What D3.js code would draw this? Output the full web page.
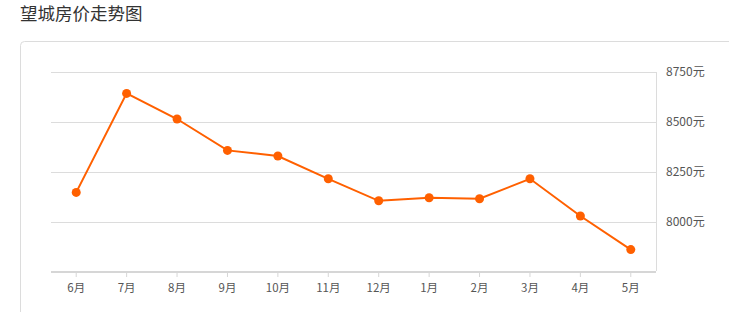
<!DOCTYPE html>
<html>
<head>
<meta charset="utf-8">
<script src="https://cdn.jsdelivr.net/npm/d3@7"></script>
<style>
  body { margin: 0; background: #fff; font-family: "Noto Sans CJK SC", "Noto Sans", sans-serif; }
</style>
</head>
<body>
<div id="chart"></div>
<script>
// house price trend
var months = ["6月", "7月", "8月", "9月", "10月", "11月", "12月", "1月", "2月", "3月", "4月", "5月"];
var prices = [8148, 8643, 8515, 8358, 8330, 8216, 8106, 8121, 8116, 8216, 8030, 7862];
var yTicks = [8000, 8250, 8500, 8750];

var svgWidth = 729;
var svgHeight = 312;

var svg = d3.select("#chart")
  .append("svg")
  .attr("width", svgWidth)
  .attr("height", svgHeight);

// title
svg.append("text")
  .attr("x", 20)
  .attr("y", 20)
  .attr("fill", "#333")
  .style("font-size", "17.5px")
  .text("望城房价走势图");

// panel box
svg.append("rect")
  .attr("x", 20.5)
  .attr("y", 41.5)
  .attr("width", 740)
  .attr("height", 300)
  .attr("rx", 4)
  .attr("fill", "none")
  .attr("stroke", "#dcdcdc");

var plotLeft = 51, plotRight = 656, plotTop = 72, plotBottom = 271;

var xScale = d3.scaleBand()
  .domain(months)
  .range([plotLeft, plotRight]);

var yScale = d3.scaleLinear()
  .domain([7755, 8750])
  .range([plotBottom, plotTop]);

// grid lines
svg.append("g")
  .selectAll("line")
  .data(yTicks)
  .enter()
  .append("line")
  .attr("x1", plotLeft)
  .attr("x2", plotRight)
  .attr("y1", d => Math.round(yScale(d)) + 0.5)
  .attr("y2", d => Math.round(yScale(d)) + 0.5)
  .attr("stroke", "#dcdcdc");

// right axis line
svg.append("line")
  .attr("x1", plotRight + 0.5)
  .attr("x2", plotRight + 0.5)
  .attr("y1", yScale(8750))
  .attr("y2", plotBottom)
  .attr("stroke", "#dcdcdc");

// y labels
svg.append("g")
  .selectAll("text")
  .data(yTicks)
  .enter()
  .append("text")
  .attr("x", 666)
  .attr("y", d => yScale(d) + 4)
  .attr("fill", "#555")
  .style("font-size", "12px")
  .text(d => d + "元");

// x axis
var xAxis = d3.axisBottom(xScale).tickSize(5).tickPadding(7);
var gx = svg.append("g")
  .attr("transform", "translate(0," + (plotBottom + 1) + ")")
  .call(xAxis);
gx.select(".domain")
  .attr("stroke", "#d6d6d6")
  .attr("stroke-width", 2)
  .attr("d", "M" + plotLeft + ",0H" + plotRight);
gx.selectAll(".tick line").attr("stroke", "#d6d6d6");
gx.selectAll(".tick text")
  .attr("fill", "#555")
  .style("font-size", "11.5px")
  .style("font-family", "'Noto Sans CJK SC', sans-serif");

// price line
var createLine = d3.line()
  .x((d, i) => xScale(months[i]) + xScale.bandwidth() / 2)
  .y(d => yScale(d));

svg.append("path")
  .attr("d", createLine(prices))
  .attr("fill", "none")
  .attr("stroke", "#ff6000")
  .attr("stroke-width", 2);

svg.append("g")
  .selectAll("circle")
  .data(prices)
  .enter()
  .append("circle")
  .attr("cx", (d, i) => xScale(months[i]) + xScale.bandwidth() / 2)
  .attr("cy", d => yScale(d))
  .attr("r", 4.5)
  .attr("fill", "#ff6000");
</script>
</body>
</html>
